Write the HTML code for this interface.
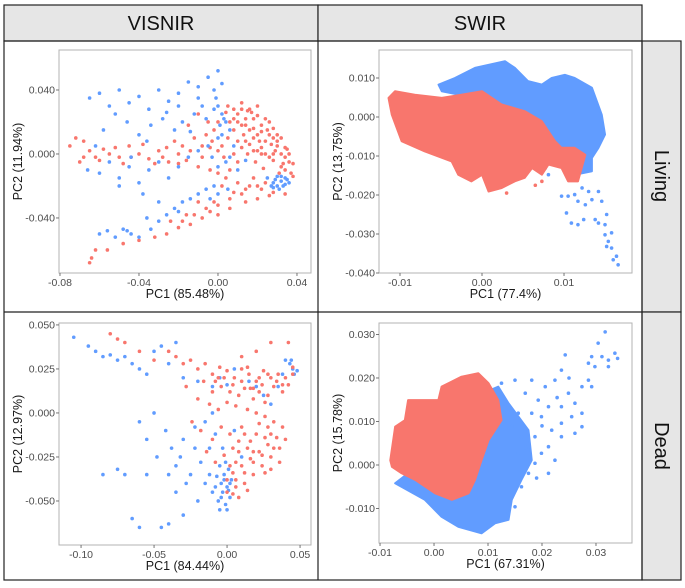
<!DOCTYPE html>
<html><head><meta charset="utf-8"><style>
html,body{margin:0;padding:0;background:#fff;}
svg{display:block;font-family:"Liberation Sans",sans-serif;}
</style></head><body>
<svg id="fig" width="685" height="588" viewBox="0 0 685 588" xmlns="http://www.w3.org/2000/svg">
  <rect x="0" y="0" width="685" height="588" fill="#fff"/>
  <rect x="4" y="5" width="314" height="36" fill="#e6e6e6" stroke="#222" stroke-width="1.2"/>
  <rect x="318" y="5" width="324" height="36" fill="#e6e6e6" stroke="#222" stroke-width="1.2"/>
  <text x="161" y="30" font-size="20" text-anchor="middle" fill="#111">VISNIR</text>
  <text x="480" y="30" font-size="20" text-anchor="middle" fill="#111">SWIR</text>
  <rect x="642" y="41" width="39" height="271" fill="#e6e6e6" stroke="#222" stroke-width="1.2"/>
  <rect x="642" y="312" width="39" height="268" fill="#e6e6e6" stroke="#222" stroke-width="1.2"/>
  <text x="0" y="0" font-size="20" text-anchor="middle" fill="#111" transform="translate(655,176) rotate(90)">Living</text>
  <text x="0" y="0" font-size="20" text-anchor="middle" fill="#111" transform="translate(655,446) rotate(90)">Dead</text>
  <rect x="4" y="41" width="638" height="539" fill="none" stroke="#222" stroke-width="1.2"/>
  <line x1="318" y1="41" x2="318" y2="580" stroke="#222" stroke-width="1.2"/>
  <line x1="4" y1="312" x2="642" y2="312" stroke="#222" stroke-width="1.2"/>
  <g id="panels"></g>
</svg>
<script>
// values in thousandths of PC units
const tlRed = [[5,30],[8,28],[10,25],[12,32],[15,27],[18,22],[20,30],[22,18],[25,15],[28,10],[30,5],[32,0],[34,-2],[36,-5],[35,3],[30,12],[26,20],[24,8],[20,12],[16,15],[12,18],[8,15],[5,10],[2,5],[0,2],[-3,8],[-6,12],[-8,5],[3,-2],[8,0],[12,4],[16,6],[20,2],[24,0],[28,-4],[32,-8],[37,-12],[38,-14],[14,22],[18,10],[22,4],[26,-2],[6,20],[10,8],[-2,15],[-5,20],[-10,25],[-15,18],[-12,10],[-18,5],[-20,0],[-25,-5],[-30,2],[-35,-3],[-40,0],[-45,5],[-50,-2],[-55,0],[-60,-4],[-65,2],[-70,-5],[-75,5],[-72,10],[-68,8],[-58,3],[-48,-6],[-38,6],[-28,-2],[-22,8],[-16,-4],[-10,-8],[-4,-10],[0,-12],[4,-15],[10,-18],[16,-20],[22,-22],[28,-24],[34,-25],[18,-15],[12,-25],[6,-28],[0,-32],[-4,-36],[-8,-40],[-14,-44],[-20,-46],[-26,-50],[-32,-52],[-40,-54],[-48,-56],[-56,-60],[-65,-68],[-64,-65],[-62,-60],[0,-38],[6,-34],[14,-30],[20,-28],[26,-26],[-10,-30],[-16,-38],[-24,-42],[15,0],[19,-5],[23,-9],[27,6],[31,-12],[10,-5],[6,-10],[17,26],[13,12],[21,8],[29,2],[33,-6],
[10,20],[14,18],[18,16],[22,14],[26,12],[30,8],[34,4],[28,16],[24,22],[16,28],[12,28],[20,24],[32,10],[36,0],[38,-6],[34,-10],[28,0],[22,0],[18,2],[14,8],[8,22],[4,26],[0,20],[-4,4],[-8,-2],[-14,2],[-20,-6],[-26,4],[-32,-6],[-44,-2],[-52,4],[-62,-2],[-68,-2],[2,-20],[8,-24],[14,-22],[20,-20],[24,-18],[-2,-30],[-6,-34],[-12,-38],[-18,-42]];
const tlBlue = [[-65,35],[-60,38],[-55,30],[-50,40],[-45,32],[-40,36],[-35,28],[-30,40],[-25,33],[-20,38],[-15,45],[-10,42],[-5,48],[0,52],[-2,40],[2,44],[-8,30],[-12,25],[-18,20],[-22,15],[-28,22],[-34,18],[-40,12],[-46,20],[-52,25],[-58,15],[-62,5],[-66,-10],[-60,-12],[-55,-5],[-50,-15],[-45,-8],[-40,-18],[-35,-10],[-30,-5],[-25,-15],[-20,-8],[-15,-2],[-10,2],[-5,5],[0,10],[2,25],[4,20],[6,15],[8,5],[4,-5],[0,-8],[-3,-2],[10,-10],[14,-4],[25,-15],[28,-18],[30,-20],[32,-17],[34,-15],[31,-22],[27,-20],[36,-18],[-60,-50],[-56,-48],[-52,-52],[-48,-47],[-44,-50],[-40,-52],[-34,-47],[-30,-42],[-26,-38],[-22,-34],[-18,-30],[-14,-28],[-10,-25],[-6,-22],[-2,-20],[0,-25],[5,-22],[-4,-28],[-30,-30],[-36,-40],[0,30],[3,22],[1,18],[-1,35],[29,-16],[33,-20],[30,-14],
[-2,28],[-6,22],[-10,35],[-20,30],[-26,26],[-14,14],[-36,8],[-44,-2],[-50,-20],[-38,-25],[34,-19],[35,-16],[32,-14],[28,-21],[-46,-48],[-20,-36],[2,12],[6,-2]];
const blRed = [[-80,45],[-75,42],[-70,40],[-60,35],[-50,30],[-40,35],[-35,32],[-30,28],[-25,30],[-20,25],[-15,28],[-10,22],[-5,26],[0,24],[5,20],[10,25],[15,22],[20,18],[25,24],[30,20],[35,22],[40,20],[45,22],[42,16],[38,12],[32,15],[28,10],[22,12],[18,8],[12,14],[8,10],[2,12],[-4,15],[-10,12],[-16,18],[-20,8],[-12,5],[-6,2],[0,6],[6,4],[14,2],[20,0],[26,-2],[32,-5],[38,-8],[34,-14],[28,-18],[22,-22],[16,-26],[10,-30],[4,-34],[0,-38],[6,-42],[12,-40],[18,-35],[24,-30],[30,-25],[36,-20],[40,-15],[14,-20],[8,-16],[2,-12],[-4,-8],[-10,-15],[-14,-22],[-8,-28],[-2,-24],[4,-20],[10,-8],[-18,-10],[20,-12],[26,-14],[30,-32],[0,-45],[8,-48],[-24,-5],[-28,15],[45,26],[20,35],[30,40],[42,40],[10,32],[16,14],[24,16],[12,-12],[18,-22],[6,-28],[28,-8],[-6,20],
[10,18],[14,26],[22,20],[28,22],[34,18],[38,16],[18,14],[4,16],[-2,20],[-8,18],[26,6],[30,-12],[24,-24],[18,-28],[12,-34],[6,-38],[2,-30],[8,-22],[16,-16],[22,-6],[32,-20],[36,-28],[26,-34],[14,-44],[4,-46]];
const blBlue = [[-105,43],[-95,38],[-90,35],[-85,32],[-80,33],[-75,30],[-70,32],[-65,28],[-60,25],[-55,22],[-50,35],[-45,38],[-40,28],[-35,40],[-30,20],[-20,18],[-10,15],[-5,20],[0,16],[5,25],[15,18],[25,10],[35,15],[40,30],[43,28],[45,25],[48,24],[38,22],[30,5],[-60,-5],[-55,-15],[-50,0],[-48,-25],[-42,-10],[-38,-20],[-35,-30],[-30,-15],[-25,-35],[-22,-8],[-18,-28],[-15,-40],[-12,-20],[-8,-12],[-5,-30],[-2,-35],[0,-42],[3,-38],[-3,-45],[-6,-50],[2,-48],[-10,-45],[-20,-50],[-35,-45],[-70,-35],[-75,-32],[-85,-35],[-65,-60],[-60,-65],[-45,-65],[-40,-63],[-30,-58],[-5,-55],[0,-55],[-15,-5],[-28,-40],[10,-25],[5,-10],[-10,0],[-4,-40],[-1,-28],[1,-32],[-7,-36],
[-2,-38],[1,-44],[-4,-48],[-1,-52],[2,-40],[-8,-42],[-12,-35],[-3,-20],[44,30],[46,22],[20,15],[-22,-20],[-32,-25],[-40,-35],[-55,-35]];
const trRedArea = [[-11.4,4.9],[-10.6,6.6],[-8.2,5.7],[-4.9,4.9],[-2.5,5.7],[0,6.6],[2.4,3.2],[5.2,1.5],[7.3,-1.1],[8.9,-6.2],[9.7,-7.9],[11.3,-7.9],[12.6,-9.7],[11.7,-16.5],[10.5,-16.5],[9.7,-13.1],[8.1,-12.2],[7.3,-14.8],[6.1,-13.1],[5.2,-15.6],[4.0,-16.5],[2.4,-18.2],[0.8,-19.1],[0,-14.8],[-1.3,-16.5],[-2.9,-14.8],[-3.7,-11.4],[-7.0,-8.8],[-9.8,-6.2],[-11.0,0.6]];
const trBlueArea = [[-5.3,8.3],[-3.3,10],[-0.85,12.6],[2.8,14.3],[4.0,12.6],[5.6,9.2],[7.3,8.3],[8.5,10],[10.1,10.8],[11.3,10],[13.4,7.5],[14.6,0.6],[15.0,-4.5],[14.2,-7.9],[13.4,-10.5],[13.4,-13.9],[11.3,-14.8],[9.7,-7.9],[7.3,-3.7],[4.8,-1.1],[2.4,3.2],[-0.85,4.9],[-4.9,6.6]];
const trBlue = [[9.7,-20.3],[10.5,-20.3],[11.3,-19.9],[11.7,-21.6],[12.6,-22.5],[13.4,-21.2],[14.2,-19.1],[14.6,-21.6],[10.3,-24.6],[10.9,-27.2],[11.7,-27.6],[12.4,-26.3],[13.8,-26.3],[14.2,-27.2],[15.0,-27.6],[15.2,-25.0],[15.0,-30.2],[15.4,-31.9],[15.8,-29.7],[15.2,-33.2],[15.8,-33.6],[16.0,-36.6],[16.4,-35.7],[16.6,-37.9],[8.1,-14.8],[7.7,-13.1],[7.3,-10.5],[6.9,-11.4],[12.2,-18.2],[13.0,-19.1]];
const trRed = [[7.3,-16.5],[6.5,-17.5],[3.0,-19.5]];
const brBlueArea = [[-7.2,-4.2],[-1.7,-8.0],[1.4,-11.9],[4.5,-14.2],[8.8,-15.7],[11.3,-13.4],[13.8,-12.6],[14.4,-8.0],[16.2,-3.4],[18.1,1.1],[17.5,8.0],[13.8,14.2],[11.9,18.0],[7.6,15.7],[5.1,8.0],[1.4,-0.4],[-4.8,-1.9]];
const brRedArea = [[-8.1,1.1],[-7.2,8.8],[-5.4,10.3],[-4.8,14.9],[-1.7,14.9],[0.8,14.9],[1.4,18.0],[5.1,20.3],[8.2,21.1],[10.1,18.8],[11.9,14.9],[12.5,10.3],[10.1,5.7],[8.8,1.1],[7.6,-3.4],[6.4,-6.5],[3.3,-8.0],[0.2,-6.5],[-3.5,-3.4],[-6.0,-1.9],[-7.8,-0.4]];
const brBlue = [[21.8,8.0],[23.6,13.4],[24.9,16.5],[26.1,14.2],[27.4,18.0],[28.6,19.5],[29.8,22.6],[31.1,24.9],[32.3,24.1],[33.5,25.7],[31.7,30.6],[30.4,28.0],[29.2,24.9],[23.6,21.8],[24.3,25.3],[22.4,19.5],[21.2,13.4],[19.9,11.1],[18.7,6.5],[18.1,11.9],[15.6,11.9],[16.9,16.5],[15.0,19.5],[14.4,8.8],[16.2,6.5],[19.9,2.7],[21.2,-1.9],[18.7,0.4],[23.6,6.5],[26.1,7.3],[27.4,8.8],[23.6,9.6],[21.2,4.2],[17.5,-1.9],[16.2,-5.0],[15.0,-9.6],[13.8,-11.1],[27.4,11.9],[25.5,11.1],[20.6,18.0],[19.3,14.9],[29.2,18.0],[32.3,22.6],[28.6,23.4],[18.1,19.5],[12.5,18.8],[15.6,2.7],[22.4,1.1],[20.0,9.0],[22.8,15.5],[17.0,4.0],[19.0,-3.0],[25.0,20.0],[34.0,24.5]];
const trXTicks = [-0.01,0,0.01], trXLabels = ["-0.01","0.00","0.01"];
const trYTicks = [0.01,0,-0.01,-0.02,-0.03,-0.04], trYLabels = ["0.010","0.000","-0.010","-0.020","-0.030","-0.040"];
const tlXTicks = [-0.08,-0.04,0,0.04], tlXLabels = ["-0.08","-0.04","0.00","0.04"];
const tlYTicks = [0.04,0,-0.04], tlYLabels = ["0.040","0.000","-0.040"];
const blXTicks = [-0.1,-0.05,0,0.05], blXLabels = ["-0.10","-0.05","0.00","0.05"];
const blYTicks = [0.05,0.025,0,-0.025,-0.05], blYLabels = ["0.050","0.025","0.000","-0.025","-0.050"];
const brXTicks = [-0.01,0,0.01,0.02,0.03], brXLabels = ["-0.01","0.00","0.01","0.02","0.03"];
const brYTicks = [0.03,0.02,0.01,0,-0.01], brYLabels = ["0.030","0.020","0.010","0.000","-0.010"];

const NS = "http://www.w3.org/2000/svg";
const RED = "#F8766D", BLUE = "#619CFF";
const root = document.getElementById("panels");
function mk(tag, attrs, parent){ const e=document.createElementNS(NS,tag); for(const k in attrs) e.setAttribute(k,attrs[k]); parent.appendChild(e); return e; }

function panel(id, box, xd, yd, xt, xl, yt, yl, xTitle, yTitle, layers){
  const g = mk("g",{},root);
  
  
  const sx = v => box.x0 + (v - xd[0])/(xd[1]-xd[0])*(box.x1-box.x0);
  const sy = v => box.y1 - (v - yd[0])/(yd[1]-yd[0])*(box.y1-box.y0);
  const frame = mk("rect",{x:box.x0,y:box.y0,width:box.x1-box.x0,height:box.y1-box.y0,fill:"#fff",stroke:"#b3b3b3","stroke-width":1},g);
  
  
  layers.forEach(L => {
    if (L.type === "area") {
      const p = mk("polygon",{points:L.data.map(d=>sx(d[0]/1000)+","+sy(d[1]/1000)).join(" "),fill:L.color,stroke:L.color,"stroke-width":2,"stroke-linejoin":"round"},g);
      
      
    } else {
      L.data.forEach(d => {
        const c = mk("circle",{cx:sx(d[0]/1000),cy:sy(d[1]/1000),r:1.8,fill:L.color},g);
        
        
      });
    }
  });
  xt.forEach((v,i) => {
    const x = sx(v);
    mk("line",{x1:x,y1:box.y1,x2:x,y2:box.y1+3,stroke:"#555","stroke-width":0.8},g);
    const t = mk("text",{x:x,y:box.y1+13,"font-size":10.5,"text-anchor":"middle",fill:"#4d4d4d"},g);
    t.textContent = xl[i];
    
    
  });
  yt.forEach((v,i) => {
    const y = sy(v);
    mk("line",{x1:box.x0-3,y1:y,x2:box.x0,y2:y,stroke:"#555","stroke-width":0.8},g);
    const t = mk("text",{x:box.x0-4,y:y+3.5,"font-size":10.5,"text-anchor":"end",fill:"#4d4d4d"},g);
    t.textContent = yl[i];
    
    
  });
  const xtT = mk("text",{x:(box.x0+box.x1)/2,y:box.y1+25,"font-size":12.5,"text-anchor":"middle",fill:"#1a1a1a"},g);
  xtT.textContent = xTitle;
  
  
  const ytT = mk("text",{x:0,y:0,"font-size":12.5,"text-anchor":"middle",fill:"#1a1a1a",transform:"translate("+(box.ytx)+","+((box.y0+box.y1)/2)+") rotate(-90)"},g);
  ytT.textContent = yTitle;
  
  
}

panel("visnir-living",{x0:59,x1:311,y0:50,y1:273,ytx:22},[-0.0805,0.0471],[-0.0744,0.065],tlXTicks,tlXLabels,tlYTicks,tlYLabels,"PC1 (85.48%)","PC2 (11.94%)",
  [{type:"pts",data:tlRed,color:RED,name:"red"},{type:"pts",data:tlBlue,color:BLUE,name:"blue"}]);
panel("swir-living",{x0:379,x1:632,y0:50,y1:273,ytx:342},[-0.01256,0.01829],[-0.04,0.01718],trXTicks,trXLabels,trYTicks,trYLabels,"PC1 (77.4%)","PC2 (13.75%)",
  [{type:"area",data:trBlueArea,color:BLUE,name:"blue-cloud"},{type:"pts",data:trBlue,color:BLUE,name:"blue"},{type:"area",data:trRedArea,color:RED,name:"red-cloud"},{type:"pts",data:trRed,color:RED,name:"red"}]);
panel("visnir-dead",{x0:59,x1:311,y0:323,y1:545,ytx:22},[-0.1151,0.0575],[-0.075,0.0511],blXTicks,blXLabels,blYTicks,blYLabels,"PC1 (84.44%)","PC2 (12.97%)",
  [{type:"pts",data:blBlue,color:BLUE,name:"blue"},{type:"pts",data:blRed,color:RED,name:"red"}]);
panel("swir-dead",{x0:379,x1:632,y0:323,y1:543,ytx:342},[-0.01019,0.03667],[-0.01793,0.03264],brXTicks,brXLabels,brYTicks,brYLabels,"PC1 (67.31%)","PC2 (15.78%)",
  [{type:"area",data:brBlueArea,color:BLUE,name:"blue-cloud"},{type:"pts",data:brBlue,color:BLUE,name:"blue"},{type:"area",data:brRedArea,color:RED,name:"red-cloud"}]);
</script>
</body></html>
